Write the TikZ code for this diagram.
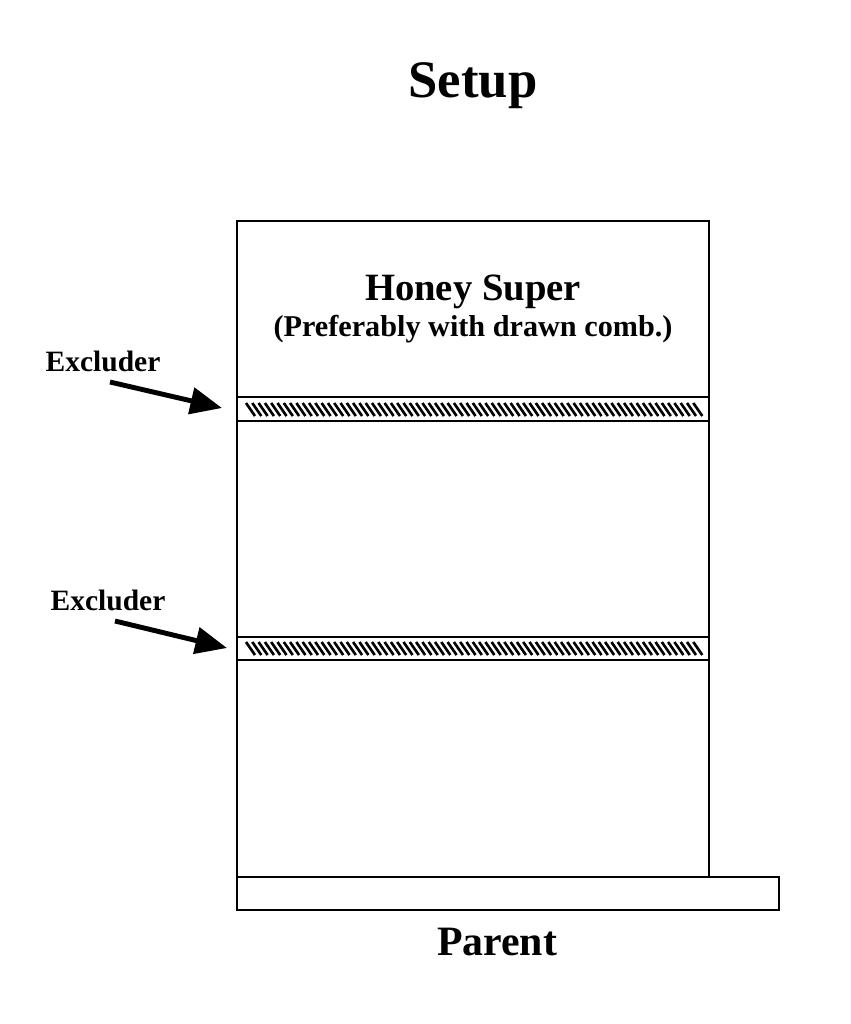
\documentclass[tikz,border=0pt]{standalone}
\usepackage{fontspec}
\setmainfont{Liberation Serif}
\usetikzlibrary{arrows.meta}

\begin{document}
\begin{tikzpicture}[x=0.02cm, y=-0.02cm, line width=1.1pt,
		txt/.style={anchor=base, inner sep=0pt},
		lbl/.style={txt, font=\bfseries\fontsize{16.8}{19}\selectfont},
		ptr/.style={-{Triangle[length=18pt,width=15pt]}, line width=2.8pt},
		hatch/.style={line width=1.5pt}]
	\useasboundingbox (0,0) rectangle (850,1024);
	\node[txt, font=\bfseries\fontsize{30}{34}\selectfont] (title) at (473,97) {Setup};
	% hive body
	\draw (237,877) -- (237,221) -- (709,221) -- (709,877);
	\draw (237,877) rectangle (779,910);
	\foreach \y in {397,421,637,660}
		\draw (237,\y) -- (709,\y);
	\foreach \y in {403,642}
		\foreach \i in {0,...,71}
			\draw[hatch] (246+6.3*\i,\y) -- ++(9,13);
	\node[txt, font=\bfseries\fontsize{22}{25}\selectfont] (super) at (473,300) {Honey Super};
	\node[txt, font=\bfseries\fontsize{17.2}{20}\selectfont] (comb) at (473,336) {(Preferably with drawn comb.)};
	\node[txt, font=\bfseries\fontsize{23.8}{27}\selectfont] (parent) at (497,955) {Parent};
	% excluders
	\node[lbl] (exc1) at (103,371) {Excluder};
	\node[lbl] (exc2) at (108,610) {Excluder};
	\coordinate (tail1) at (110,382);
	\coordinate (tip1) at (222,408);
	\coordinate (tail2) at (115,621);
	\coordinate (tip2) at (227,648);
	\draw[ptr] (tail1) -- (tip1);
	\draw[ptr] (tail2) -- (tip2);
\end{tikzpicture}
\end{document}
